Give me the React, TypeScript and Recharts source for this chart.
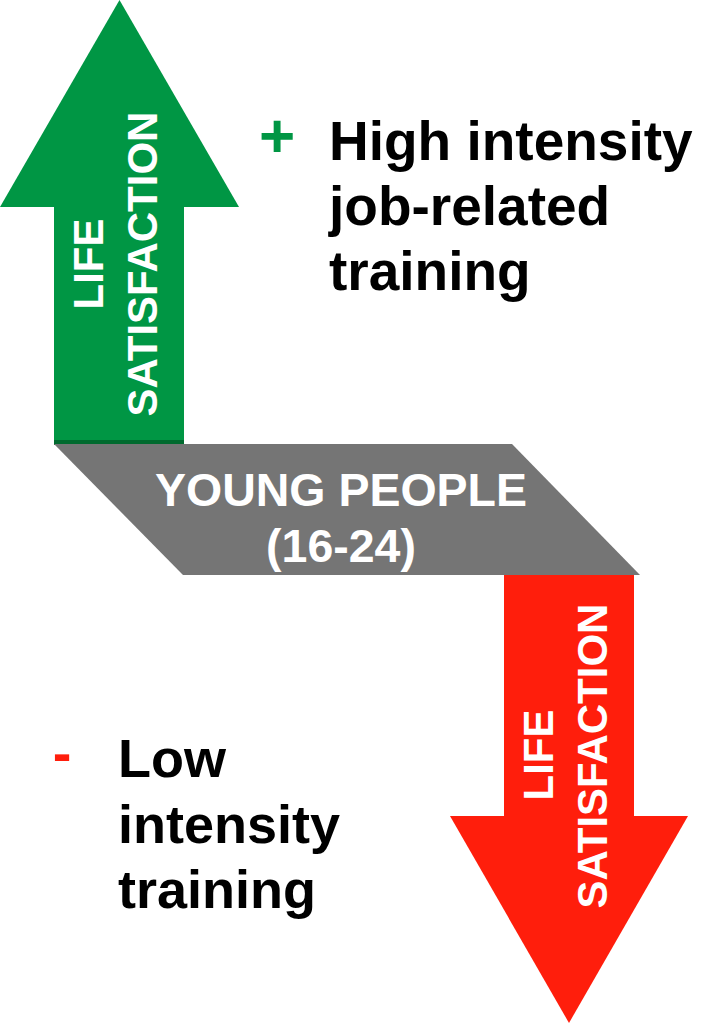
import { ComposedChart, XAxis, YAxis, ReferenceArea, Scatter } from 'recharts';

// text content
const arrowWords = ['LIFE', 'SATISFACTION'];
const groupLines = ['YOUNG PEOPLE', '(16-24)'];
const positiveLines = ['High intensity', 'job-related', 'training'];
const negativeLines = ['Low', 'intensity', 'training'];
const signs = ['+', '-'];

const GREEN = '#009644';
const DARK_GREEN = '#006A2E';
const RED = '#FF1E0C';
const GRAY = '#757575';
const FONT = '"Liberation Sans", Arial, sans-serif';

const W = 723;
const H = 1024;

// layout, in axis units (0..723 across, 0..1024 down)
const shafts = [
  { id: 'up-shaft', x1: 54, x2: 184, y1: 205, y2: 441, fill: GREEN },
  { id: 'up-edge', x1: 54, x2: 184, y1: 440, y2: 445, fill: DARK_GREEN },
  { id: 'down-shaft', x1: 504, x2: 634, y1: 575, y2: 818, fill: RED },
];
const heads = [
  { id: 'up-head', x1: 0, x2: 239, y1: 0, y2: 207, dir: 'up', fill: GREEN },
  { id: 'down-head', x1: 450, x2: 688, y1: 816, y2: 1023, dir: 'down', fill: RED },
];
const band = { x1: 54, x2: 640, y1: 444, y2: 575, topRight: 512, bottomLeft: 183 };

const arrowWordPos = [
  [{ x: 103, y: 264 }, { x: 157, y: 264 }],
  [{ x: 553, y: 755 }, { x: 607, y: 756 }],
];
const groupPos = { x: 341, baselines: [506, 562] };
const positivePos = { x: 329, baselines: [160, 225, 290], size: 55 };
const negativePos = { x: 118, baselines: [777, 843, 908], size: 54 };
const signPos = [
  { x: 277, y: 157, color: GREEN, size: 62 },
  { x: 62, y: 772, color: RED, size: 56 },
];

const labels = [
  ...arrowWordPos.flatMap((pair) =>
    pair.map((p, i) => ({ ...p, text: arrowWords[i], kind: 'arrow' }))
  ),
  ...groupLines.map((t, i) => ({ x: groupPos.x, y: groupPos.baselines[i], text: t, kind: 'group' })),
  ...positiveLines.map((t, i) => ({ x: positivePos.x, y: positivePos.baselines[i], text: t, kind: 'body', size: positivePos.size })),
  ...negativeLines.map((t, i) => ({ x: negativePos.x, y: negativePos.baselines[i], text: t, kind: 'body', size: negativePos.size })),
  ...signs.map((t, i) => ({ ...signPos[i], text: t, kind: 'sign' })),
];

function LabelShape(props: any) {
  const { cx, cy, payload } = props;
  const base = { fontFamily: FONT, fontWeight: 700 };
  if (payload.kind === 'arrow') {
    return (
      <text x={cx} y={cy} transform={`rotate(-90 ${cx} ${cy})`} textAnchor="middle" fill="#fff" fontSize={42} {...base}>
        {payload.text}
      </text>
    );
  }
  if (payload.kind === 'group') {
    return (
      <text x={cx} y={cy} textAnchor="middle" fill="#fff" fontSize={46.5} {...base}>
        {payload.text}
      </text>
    );
  }
  if (payload.kind === 'sign') {
    return (
      <text x={cx} y={cy} textAnchor="middle" fill={payload.color} fontSize={payload.size} {...base}>
        {payload.text}
      </text>
    );
  }
  return (
    <text x={cx} y={cy} fill="#000" fontSize={payload.size} {...base}>
      {payload.text}
    </text>
  );
}

function HeadShape({ x, y, width, height, spec }: any) {
  const mid = x + width / 2;
  const pts =
    spec.dir === 'up'
      ? `${mid},${y} ${x + width},${y + height} ${x},${y + height}`
      : `${x},${y} ${x + width},${y} ${mid},${y + height}`;
  return <polygon points={pts} fill={spec.fill} />;
}

function BandShape({ x, y, width, height }: any) {
  const px = (v: number) => x + ((v - band.x1) / (band.x2 - band.x1)) * width;
  const pts = `${x},${y} ${px(band.topRight)},${y} ${x + width},${y + height} ${px(band.bottomLeft)},${y + height}`;
  return <polygon points={pts} fill={GRAY} />;
}

export default function App() {
  return (
    <div style={{ position: 'absolute', top: 0, left: 0, background: '#fff' }}>
      <ComposedChart width={W} height={H} margin={{ top: 0, right: 0, bottom: 0, left: 0 }}>
        <XAxis type="number" dataKey="x" domain={[0, W]} allowDataOverflow hide />
        <YAxis type="number" dataKey="y" domain={[0, H]} allowDataOverflow reversed hide />
        {heads.map((h) => (
          <ReferenceArea
            key={h.id}
            x1={h.x1}
            x2={h.x2}
            y1={h.y1}
            y2={h.y2}
            ifOverflow="visible"
            shape={(p: any) => <HeadShape {...p} spec={h} />}
          />
        ))}
        {shafts.map((s) => (
          <ReferenceArea
            key={s.id}
            x1={s.x1}
            x2={s.x2}
            y1={s.y1}
            y2={s.y2}
            fill={s.fill}
            fillOpacity={1}
            stroke="none"
            ifOverflow="visible"
          />
        ))}
        <ReferenceArea
          x1={band.x1}
          x2={band.x2}
          y1={band.y1}
          y2={band.y2}
          ifOverflow="visible"
          shape={(p: any) => <BandShape {...p} />}
        />
        <Scatter data={labels} shape={(p: any) => <LabelShape {...p} />} isAnimationActive={false} />
      </ComposedChart>
    </div>
  );
}
